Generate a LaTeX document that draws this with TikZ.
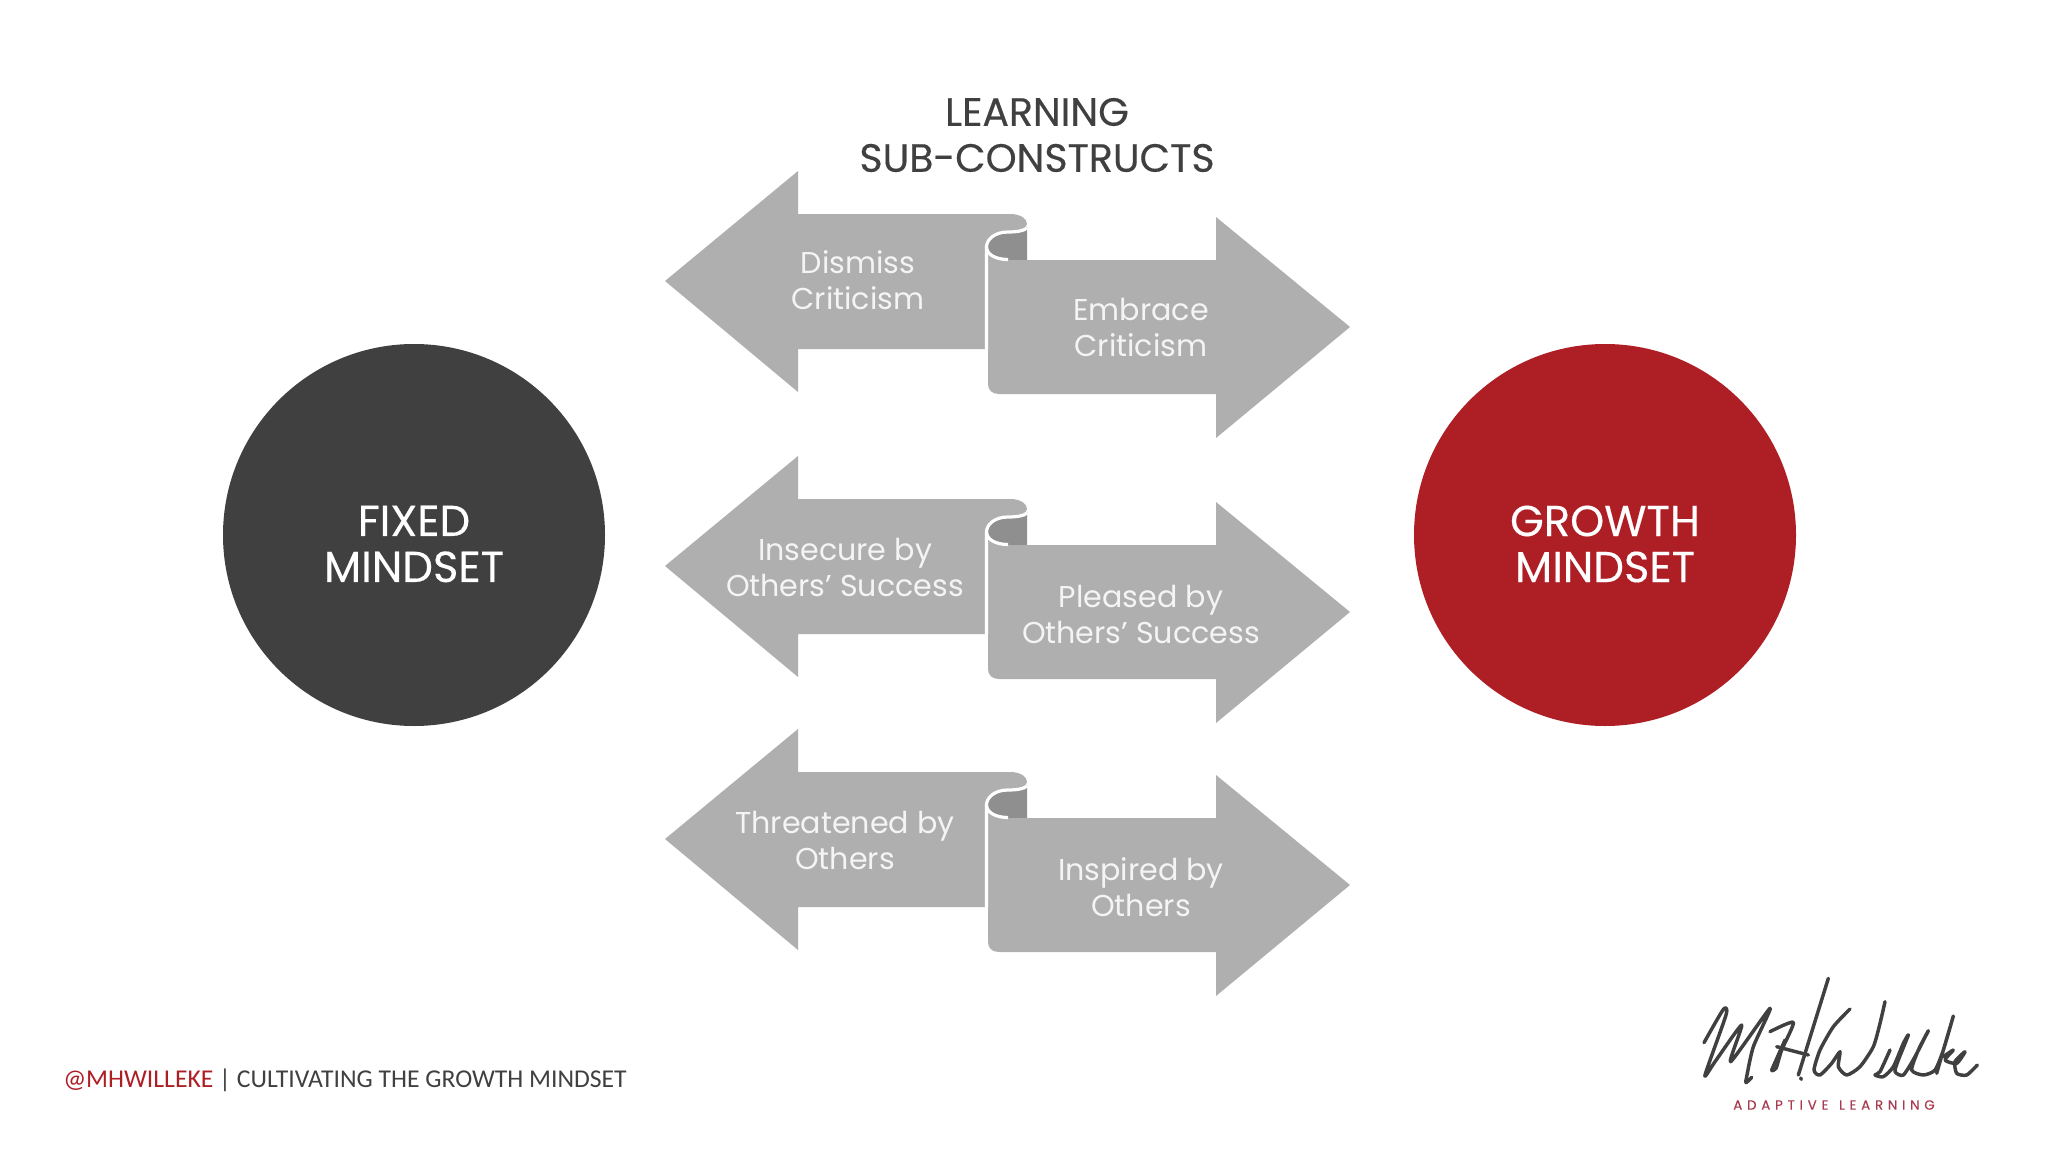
\documentclass[tikz,border=0pt]{standalone}
\usepackage{fontspec}
\setmainfont{Poppins}
\newfontfamily\headfont[FakeBold=0.3]{Poppins}
\newfontfamily\footfont{Carlito}
\newfontfamily\logofont[LetterSpace=36,FakeBold=0.3]{Poppins}
\definecolor{darkgrey}{HTML}{404040}
\definecolor{mindred}{HTML}{AE1E25}
\definecolor{arrowgrey}{HTML}{AFAFAF}
\definecolor{foldgrey}{HTML}{8F8F8F}
\definecolor{labelwhite}{HTML}{F4F4F4}
\definecolor{logored}{HTML}{A83A50}
\tikzset{
  mindcircle/.style={circle,minimum size=286.5pt,inner sep=0pt,text=white},
  mindtext/.style={align=center,text=white,font=\headfont\fontsize{32.5}{34.5}\selectfont},
  arrowlabel/.style={align=center,text=labelwhite,font=\fontsize{22.6}{27}\selectfont},
  signstroke/.style={darkgrey,line width=2.6pt,line cap=round,line join=round}
}
\begin{document}
\begin{tikzpicture}[x=0.75pt,y=0.75pt,yscale=-1]
    \fill[white] (0,0) rectangle (2048,1152);
    \useasboundingbox (0,0) rectangle (2048,1152);

    %Shape: Circles
    \node[mindcircle,fill=darkgrey] (fixed) at (414,535) {};
    \node[mindcircle,fill=mindred] (growth) at (1605,535) {};
    % Text Node
    \node[mindtext] (fixedtext) at (414,544) {FIXED\\MINDSET};
    \node[mindtext] (growthtext) at (1605,544) {GROWTH\\MINDSET};

    %Shape: Folded arrows, one pair per row
    \foreach \rowshift in {0,285,558}{
    \begin{scope}[shift={(0,\rowshift)}]
      \fill[arrowgrey] (665,281) -- (798,171) -- (798,214) -- (1010,214) .. controls (1021,214) and (1027,219) .. (1027,224) .. controls (1027,229) and (1018,231) .. (1008,231) .. controls (993,231) and (985,239) .. (985,247) -- (985,349) -- (798,349) -- (798,392) -- cycle;
      \fill[foldgrey] (985,247) .. controls (985,239) and (993,231) .. (1008,231) .. controls (1016,231) and (1024,230) .. (1027,227) -- (1027,260) -- (1008,260) .. controls (993,260) and (985,254) .. (985,247) -- cycle;
      \fill[arrowgrey] (1350,327) -- (1216,217) -- (1216,260) -- (1008,260) .. controls (996,260) and (988,254) .. (988,247) -- (988,384) .. controls (988,390) and (992,394) .. (999,394) -- (1216,394) -- (1216,438) -- cycle;
      \draw[white,line width=2.4pt] (986.5,349) -- (986.5,247) .. controls (986.5,240) and (994,232) .. (1008,232) .. controls (1016,232) and (1024,231) .. (1027,228);
      \draw[white,line width=2.4pt] (986.5,247) .. controls (986.5,254) and (995,259.5) .. (1008,259.5);
    \end{scope}
    }

    % Text Node
    \node[align=center,text=darkgrey,font=\headfont\fontsize{29.6}{34.5}\selectfont] (title) at (1037,135) {LEARNING\\SUB-CONSTRUCTS};
    % Text Node
    \node[arrowlabel] (dismiss) at (858,280) {Dismiss\\Criticism};
    \node[arrowlabel] (embrace) at (1141,327) {Embrace\\Criticism};
    \node[arrowlabel] (insecure) at (845,567) {Insecure by\\Others’ Success};
    \node[arrowlabel] (pleased) at (1141,614) {Pleased by\\Others’ Success};
    \node[arrowlabel] (threatened) at (845,840) {Threatened by\\Others};
    \node[arrowlabel] (inspired) at (1141,887) {Inspired by\\Others};
    % Text Node
    \node[anchor=west,inner sep=0pt,text=darkgrey,font=\footfont\fontsize{19.25}{22}\selectfont] (footer) at (63,1080) {\textcolor{mindred}{@MHWILLEKE} | CULTIVATING THE GROWTH MINDSET};

    %Shape: Signature
    \begin{scope}[shift={(1670,960)},x=0.25pt,y=0.25pt]
      \draw[signstroke] plot[smooth,tension=.4] coordinates {(102,248) (160,148) (168,165) (105,345) (135,305) (215,195) (182,305) (300,145) (250,260) (230,350) (228,368) (245,352)};
      \draw[signstroke] plot[smooth,tension=.4] coordinates {(300,215) (370,187) (335,270) (318,325) (305,332)};
      \draw[signstroke] (305,330) -- (345,240);
      \draw[signstroke] (320,260) -- (415,285);
      \draw[signstroke] (475,55) -- (385,345);
      \draw[signstroke] (392,354) -- (394,358);
      \draw[signstroke] plot[smooth,tension=.4] coordinates {(540,147) (490,200) (450,270) (432,330) (450,345) (485,310) (510,275) (505,320) (530,345) (570,320) (610,260) (630,190) (645,125)};
      \draw[signstroke] plot[smooth,tension=.4] coordinates {(660,270) (630,335) (615,345) (640,350) (670,320) (700,250) (715,225) (685,300) (675,335) (700,345) (735,290) (775,212) (745,270) (725,330) (760,345) (795,330) (820,270) (850,168) (820,270) (800,340)};
      \draw[signstroke] plot[smooth,tension=.4] coordinates {(820,290) (850,270) (825,300) (860,310) (885,275) (855,305) (860,340) (890,345) (922,315)};
    \end{scope}
    % Text Node
    \node[inner sep=0pt,text=logored,font=\logofont\fontsize{10}{12}\selectfont] (adaptive) at (1834,1105) {ADAPTIVE\hspace{8pt}LEARNING};
\end{tikzpicture}
\end{document}
